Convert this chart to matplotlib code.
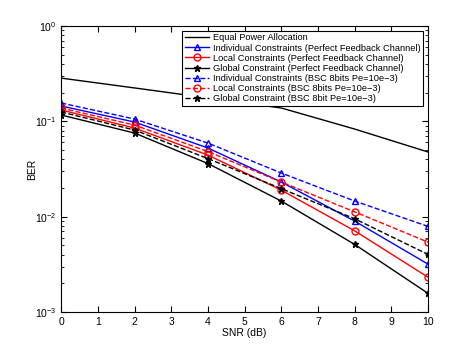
import matplotlib
matplotlib.use('Agg')
import matplotlib.pyplot as plt
import numpy as np

plt.rcParams['font.family'] = ['Liberation Sans', 'DejaVu Sans']

snr = [0, 2, 4, 6, 8, 10]
equal_power = [0.284, 0.224, 0.176, 0.138, 0.083, 0.0477]
ind_perfect = [0.1448, 0.0983, 0.0525, 0.0231, 0.00899, 0.00318]
local_perfect = [0.1315, 0.0851, 0.0443, 0.0190, 0.00711, 0.00232]
global_perfect = [0.1165, 0.0754, 0.0361, 0.01459, 0.00512, 0.00157]
ind_bsc = [0.1556, 0.1057, 0.0592, 0.0287, 0.01459, 0.00791]
local_bsc = [0.1379, 0.0914, 0.0482, 0.0231, 0.01125, 0.00541]
global_bsc = [0.1253, 0.0811, 0.0407, 0.0197, 0.00951, 0.00402]

fig = plt.figure(figsize=(4.74, 3.51), dpi=100)
ax = fig.add_axes([0.129, 0.111, 0.774, 0.815])

ax.semilogy(snr, equal_power, 'k-', lw=1, label='Equal Power Allocation')
ax.semilogy(snr, ind_perfect, 'b-^', lw=1, ms=5, mfc='none',
            label='Individual Constraints (Perfect Feedback Channel)')
ax.semilogy(snr, local_perfect, 'r-o', lw=1, ms=5, mfc='none',
            label='Local Constraints (Perfect Feedback Channel)')
ax.semilogy(snr, global_perfect, 'k-*', lw=1, ms=4.5,
            label='Global Constraint (Perfect Feedback Channel)')
ax.semilogy(snr, ind_bsc, 'b--^', lw=1, ms=5, mfc='none',
            label='Individual Constraints (BSC 8bits Pe=10e\u22123)')
ax.semilogy(snr, local_bsc, 'r--o', lw=1, ms=5, mfc='none',
            label='Local Constraints (BSC 8bits Pe=10e\u22123)')
ax.semilogy(snr, global_bsc, 'k--*', lw=1, ms=4.5,
            label='Global Constraint (BSC 8bit Pe=10e\u22123)')

ax.set_xlim(0, 10)
ax.set_ylim(1e-3, 1)
ax.set_xticks(range(0, 11))
ax.tick_params(which='both', direction='in', top=True, right=True, labelsize=7.5)
ax.tick_params(which='major', length=4)
ax.tick_params(which='minor', length=2)
ax.set_xlabel('SNR (dB)', fontsize=7.5, labelpad=1)
ax.set_ylabel('BER', fontsize=7.5, labelpad=-2)

leg = ax.legend(loc='upper right', fontsize=6.7, fancybox=False, framealpha=1,
                edgecolor='k', handlelength=2.6, labelspacing=0.12,
                borderpad=0.3, handletextpad=0.4, borderaxespad=0.5)
leg.get_frame().set_linewidth(0.8)

fig.savefig('out.png', dpi=100)
